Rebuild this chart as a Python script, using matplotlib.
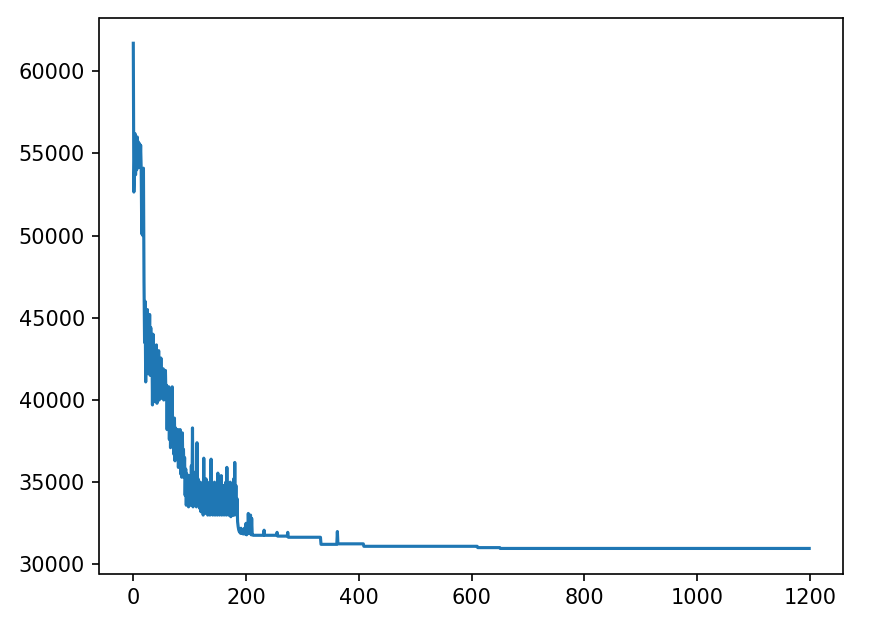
import numpy as np
import matplotlib
matplotlib.use("Agg")
import matplotlib.pyplot as plt

# noisy early iterations (0..212)
early = [61700, 52650, 54000, 56200, 53700, 55900, 54000, 56000, 54200, 55700,
         54150, 55600, 54300, 55500, 54100, 50100, 54000, 50000, 54100, 47200,
         43500, 46000, 41100, 45000, 42200, 45500, 41600, 44800, 42800, 45200,
         41500, 44400, 42000, 43800, 39700, 44000, 40500, 42600, 39900, 43000,
         40200, 43350, 39800, 42500, 40600, 43000, 40000, 41800, 40300, 42550,
         40100, 41700, 40200, 41900, 40000, 41500, 40600, 41800, 40100, 40900,
         38200, 40700, 39000, 40800, 37600, 40500, 37100, 39500, 38000, 40800,
         37200, 38600, 36700, 38900, 36300, 38300, 37000, 38000, 36400, 38200,
         35900, 37600, 36300, 38200, 35500, 37400, 35300, 38000, 35800, 37000,
         35300, 36500, 34200, 35800, 33600, 35500, 34000, 35000, 33500, 35400,
         34000, 35200, 33600, 36000, 33800, 38300, 33500, 35000, 34200, 35600,
         33600, 34800, 33500, 37400, 33700, 35200, 33600, 34500, 33400, 35000,
         33200, 34600, 33500, 34900, 33000, 36460, 33300, 34300, 33100, 35200,
         33400, 34700, 33000, 34500, 33200, 35000, 33000, 34400, 36400, 33100,
         34800, 33000, 34200, 33300, 35000, 33000, 34500, 33200, 34300, 33000,
         35550, 33100, 34600, 33000, 34200, 33300, 35400, 33000, 34400, 33100,
         34800, 33000, 34300, 33200, 35000, 33000, 35900, 33100, 34200, 33000,
         34700, 33000, 35000, 32900, 34500, 33100, 34300, 33000, 35200, 33000,
         36200, 33200, 34800, 33000, 34000, 32600, 32300, 32100, 32000, 31950,
         31900, 32200, 31900, 31900, 32100, 31850, 31900, 32200, 31850, 31900,
         32500, 31800, 31850, 32000, 33100, 32200, 31900, 32900, 33000, 31800,
         32800, 31800, 31780]

# later iterations: plateau levels and how many iterations each lasts
late_levels = [31770, 32080, 31770, 31950, 31720, 31950, 31650, 31220, 32000,
               31250, 31100, 31020, 30970]
late_counts = [19, 1, 22, 1, 18, 1, 58, 29, 1, 46, 202, 40, 549]

cost = np.concatenate([early, np.repeat(late_levels, late_counts)])
iters = np.arange(len(cost))

fig = plt.figure(figsize=(880 / 150, 622 / 150), dpi=150)
ax = fig.add_subplot(111)
fig.subplots_adjust(left=99.5 / 880, right=843 / 880, bottom=1 - 573.7 / 622, top=1 - 18 / 622)
ax.plot(iters, cost)
ax.set_xticks([0, 200, 400, 600, 800, 1000, 1200])
ax.set_yticks([30000, 35000, 40000, 45000, 50000, 55000, 60000])
fig.savefig("out.png", dpi=150)
